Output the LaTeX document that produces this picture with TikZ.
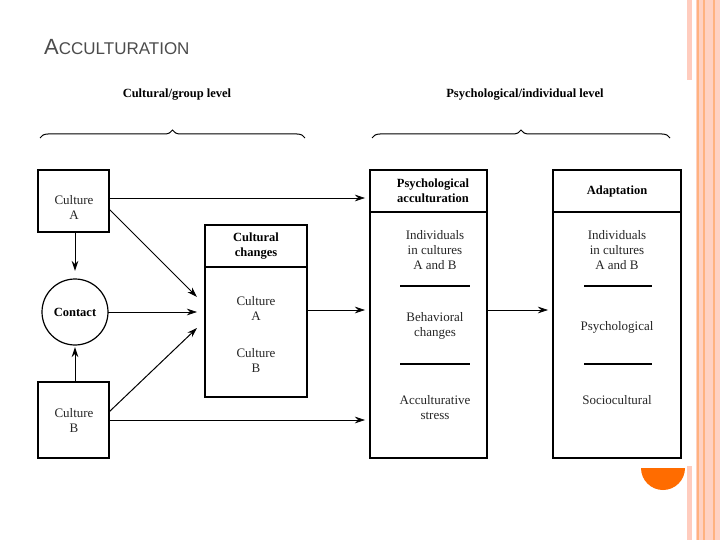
\documentclass[tikz,border=0pt]{standalone}
\usepackage{fontspec}
\setmainfont{Liberation Serif}
\newfontfamily\titlefont{Liberation Sans}
\usetikzlibrary{arrows.meta,decorations.pathreplacing}
\begin{document}
\begin{tikzpicture}[x=1pt,y=-1pt,
  bx/.style={draw,line width=1.2pt},
  txt/.style={font=\fontsize{13}{15}\selectfont,align=center,text=black!85},
  hd/.style={font=\bfseries\fontsize{12.5}{15}\selectfont,align=center},
  arr/.style={-{Stealth[length=10pt,width=6.5pt]},line width=1pt},
  arrt/.style={-{Stealth[length=10pt,width=6.5pt]},line width=0.6pt},
  sep/.style={line width=1.2pt},
  brace/.style={decorate,decoration={brace,amplitude=8pt},line width=1pt}]
\useasboundingbox (0,0) rectangle (720,540);
\fill[white] (0,0) rectangle (720,540);
% decoration
\fill[orange!15!pink!70] (687,0) rectangle (692,80);
\fill[orange!15!pink!70] (687,466) rectangle (692,540);
\fill[orange!20!pink!60] (696,0) rectangle (720,540);
\foreach \xx in {697,703,713} \fill[orange!50!pink!80] (\xx,0) rectangle (\xx+2,540);
\fill[orange!85!red] (641,468) arc[start angle=180,end angle=0,radius=22] -- cycle;
\node[anchor=base west,inner sep=0,text=black!70] (title) at (44,55)
  {\titlefont\fontsize{22}{24}\selectfont A\fontsize{17}{20}\selectfont CCULTURATION};
% headings
\node[hd] (lvl1) at (177,95) {Cultural/group level};
\node[hd] (lvl2) at (525,95) {Psychological/individual level};
\draw[brace] (40,138) -- (305,138);
\draw[brace] (372,138) -- (670,138);
% boxes
\draw[bx] (38,170) rectangle (109,232);
\node[txt] (ca) at (74,207) {Culture\\A};
\draw[bx] (38,382) rectangle (109,458);
\node[txt] (cb) at (74,421) {Culture\\B};
\draw[bx] (75,312) circle (33);
\node[hd] (ct) at (75,312) {Contact};
\draw[bx] (205,225) rectangle (307,397);
\draw[bx] (205,267) -- (307,267);
\node[hd] (cch) at (256,246) {Cultural\\changes};
\node[txt] (cc1) at (256,308) {Culture\\A};
\node[txt] (cc2) at (256,361) {Culture\\B};
\draw[bx] (370,170) rectangle (487,458);
\draw[bx] (370,212) -- (487,212);
\node[hd] (pa) at (433,191) {Psychological\\acculturation};
\node[txt] (p1) at (435,250) {Individuals\\in cultures\\A and B};
\draw[sep] (400,286) -- (470,286);
\node[txt] (p2) at (435,326) {Behavioral\\changes};
\draw[sep] (400,364) -- (470,364);
\node[txt] (p3) at (435,408) {Acculturative\\stress};
\draw[bx] (553,170) rectangle (681,458);
\draw[bx] (553,212) -- (681,212);
\node[hd] (ad) at (617,191) {Adaptation};
\node[txt] (a1) at (617,250) {Individuals\\in cultures\\A and B};
\draw[sep] (584,286) -- (652,286);
\node[txt] (a2) at (617,327) {Psychological};
\draw[sep] (584,364) -- (652,364);
\node[txt] (a3) at (617,400) {Sociocultural};
% connectors
\draw[arrt] (109,198) -- (365,198);
\draw[arrt] (109,420) -- (365,420);
\draw[arr] (75,232) -- (75,271);
\draw[arr] (75,382) -- (75,347);
\draw[arr] (109,209) -- (197,297);
\draw[arrt] (108,312) -- (197,312);
\draw[arr] (109,412) -- (197,328);
\draw[arrt] (307,310) -- (365,310);
\draw[arrt] (487,310) -- (548,310);
\end{tikzpicture}
\end{document}
